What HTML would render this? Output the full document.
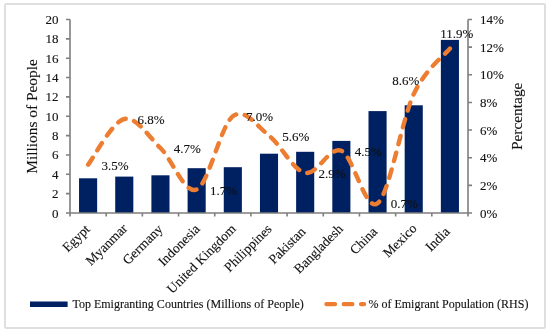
<!DOCTYPE html>
<html><head><meta charset="utf-8"><style>
html,body{margin:0;padding:0;background:#fff;}
body{width:550px;height:332px;overflow:hidden;position:relative;}
.frame{position:absolute;left:4px;top:3px;width:538px;height:322px;border:2px solid #DFDFDF;border-radius:2px;}
svg{position:absolute;left:0;top:0;will-change:transform;}
text{font-family:"Liberation Serif",serif;font-size:13px;fill:#111;stroke:#111;stroke-width:0.12px;}
</style></head><body>
<div class="frame"></div>
<svg width="550" height="332" viewBox="0 0 550 332">
<rect x="79.04" y="178.30" width="18.10" height="34.70" fill="#002161"/>
<rect x="115.22" y="176.60" width="18.10" height="36.40" fill="#002161"/>
<rect x="151.40" y="175.30" width="18.10" height="37.70" fill="#002161"/>
<rect x="187.59" y="168.20" width="18.10" height="44.80" fill="#002161"/>
<rect x="223.77" y="167.20" width="18.10" height="45.80" fill="#002161"/>
<rect x="259.95" y="153.70" width="18.10" height="59.30" fill="#002161"/>
<rect x="296.13" y="151.80" width="18.10" height="61.20" fill="#002161"/>
<rect x="332.31" y="140.90" width="18.10" height="72.10" fill="#002161"/>
<rect x="368.50" y="111.10" width="18.10" height="101.90" fill="#002161"/>
<rect x="404.68" y="105.30" width="18.10" height="107.70" fill="#002161"/>
<rect x="440.86" y="39.90" width="18.10" height="173.10" fill="#002161"/>
<path d="M70.0 19.5V216.6M468.0 19.5V216.6M66.0 213.0H472.0M66.0 213.00H70.0M66.0 193.65H70.0M66.0 174.30H70.0M66.0 154.95H70.0M66.0 135.60H70.0M66.0 116.25H70.0M66.0 96.90H70.0M66.0 77.55H70.0M66.0 58.20H70.0M66.0 38.85H70.0M66.0 19.50H70.0M468.0 213.00H472.0M468.0 185.36H472.0M468.0 157.71H472.0M468.0 130.07H472.0M468.0 102.43H472.0M468.0 74.79H472.0M468.0 47.14H472.0M468.0 19.50H472.0M106.18 213.0V216.6M142.36 213.0V216.6M178.55 213.0V216.6M214.73 213.0V216.6M250.91 213.0V216.6M287.09 213.0V216.6M323.27 213.0V216.6M359.45 213.0V216.6M395.64 213.0V216.6M431.82 213.0V216.6" stroke="#7F7F7F" stroke-width="1.6" fill="none"/>
<path d="M88.09 164.62C94.12 157.02 112.21 121.78 124.27 119.01C136.33 116.25 148.39 136.29 160.45 148.04C172.52 159.79 184.58 194.80 196.64 189.50C208.70 184.21 220.76 125.23 232.82 116.25C244.88 107.27 256.94 126.16 269.00 135.60C281.06 145.04 293.12 170.38 305.18 172.92C317.24 175.45 329.30 145.74 341.36 150.80C353.42 155.87 365.48 212.77 377.55 203.32C389.61 193.88 401.67 119.94 413.73 94.14C425.79 68.34 443.88 56.13 449.91 48.53" stroke="#ED7D31" stroke-width="4.4" fill="none" stroke-linecap="round" stroke-dasharray="8.5 8.8"/>
<text x="58.5" y="217.50" text-anchor="end">0</text>
<text x="58.5" y="198.15" text-anchor="end">2</text>
<text x="58.5" y="178.80" text-anchor="end">4</text>
<text x="58.5" y="159.45" text-anchor="end">6</text>
<text x="58.5" y="140.10" text-anchor="end">8</text>
<text x="58.5" y="120.75" text-anchor="end">10</text>
<text x="58.5" y="101.40" text-anchor="end">12</text>
<text x="58.5" y="82.05" text-anchor="end">14</text>
<text x="58.5" y="62.70" text-anchor="end">16</text>
<text x="58.5" y="43.35" text-anchor="end">18</text>
<text x="58.5" y="24.00" text-anchor="end">20</text>
<text x="480" y="217.50">0%</text>
<text x="480" y="189.86">2%</text>
<text x="480" y="162.21">4%</text>
<text x="480" y="134.57">6%</text>
<text x="480" y="106.93">8%</text>
<text x="480" y="79.29">10%</text>
<text x="480" y="51.64">12%</text>
<text x="480" y="24.00">14%</text>
<text x="101.39" y="169.62">3.5%</text>
<text x="137.57" y="124.01">6.8%</text>
<text x="173.75" y="153.04">4.7%</text>
<text x="209.94" y="194.50">1.7%</text>
<text x="246.12" y="121.25">7.0%</text>
<text x="282.30" y="140.60">5.6%</text>
<text x="318.48" y="177.92">2.9%</text>
<text x="354.66" y="155.80">4.5%</text>
<text x="390.85" y="208.32">0.7%</text>
<text x="392.20" y="84.90">8.6%</text>
<text x="440.30" y="37.70">11.9%</text>
<text x="90.59" y="230.00" text-anchor="end" style="font-size:13.5px" transform="rotate(-45 90.59 230.00)">Egypt</text>
<text x="128.07" y="229.20" text-anchor="end" style="font-size:13.5px" transform="rotate(-45 128.07 229.20)">Myanmar</text>
<text x="163.45" y="230.00" text-anchor="end" style="font-size:13.5px" transform="rotate(-45 163.45 230.00)">Germany</text>
<text x="200.54" y="229.70" text-anchor="end" style="font-size:13.5px" transform="rotate(-45 200.54 229.70)">Indonesia</text>
<text x="236.72" y="229.70" text-anchor="end" style="font-size:13.5px" transform="rotate(-45 236.72 229.70)">United Kingdom</text>
<text x="272.60" y="229.70" text-anchor="end" style="font-size:13.5px" transform="rotate(-45 272.60 229.70)">Philippines</text>
<text x="306.28" y="232.50" text-anchor="end" style="font-size:13.5px" transform="rotate(-45 306.28 232.50)">Pakistan</text>
<text x="343.86" y="229.80" text-anchor="end" style="font-size:13.5px" transform="rotate(-45 343.86 229.80)">Bangladesh</text>
<text x="378.05" y="232.50" text-anchor="end" style="font-size:13.5px" transform="rotate(-45 378.05 232.50)">China</text>
<text x="417.53" y="229.20" text-anchor="end" style="font-size:13.5px" transform="rotate(-45 417.53 229.20)">Mexico</text>
<text x="450.41" y="232.50" text-anchor="end" style="font-size:13.5px" transform="rotate(-45 450.41 232.50)">India</text>
<text x="37.2" y="116.5" text-anchor="middle" style="font-size:15.4px" transform="rotate(-90 37.2 116.5)">Millions of People</text>
<text x="522" y="116.3" text-anchor="middle" style="font-size:15.4px" transform="rotate(-90 522 116.3)">Percentage</text>
<rect x="30" y="301.5" width="37.6" height="5.5" fill="#002161"/>
<text x="72.4" y="307.5" style="font-size:12px">Top Emigranting Countries (Millions of People)</text>
<path d="M326.5 304.1H364" stroke="#ED7D31" stroke-width="4.4" stroke-linecap="round" stroke-dasharray="8.5 8.8" fill="none"/>
<text x="368.4" y="307.5" style="font-size:12px">% of Emigrant Population (RHS)</text>
</svg>
</body></html>
